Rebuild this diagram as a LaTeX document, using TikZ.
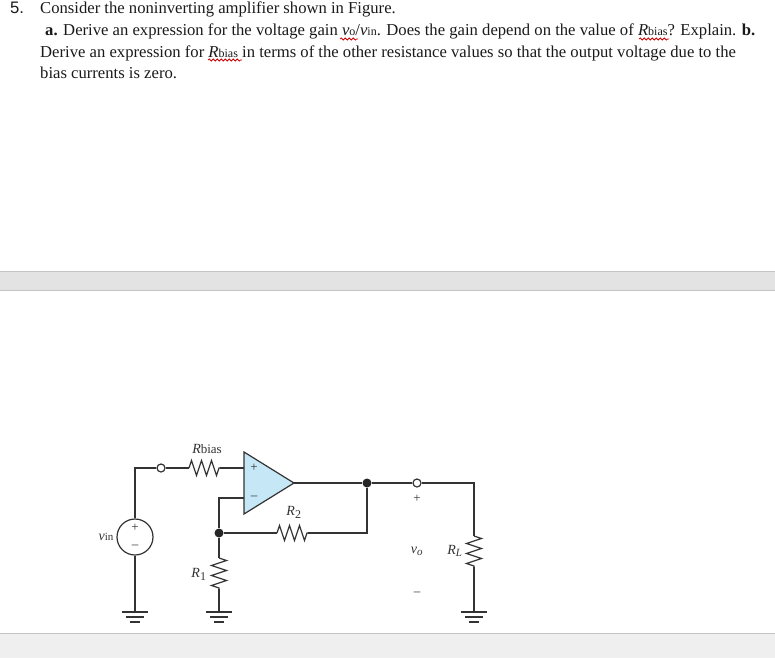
\documentclass[tikz,border=0pt]{standalone}
\usepackage{amsmath}
\usepackage{fontspec}
\setmainfont{Liberation Serif}
\newfontfamily\numfont{Liberation Sans}
\usetikzlibrary{decorations.pathmorphing}
\definecolor{wire}{HTML}{333333}
\definecolor{ampblue}{HTML}{C6E7F6}
\definecolor{bandone}{HTML}{E3E3E3}
\definecolor{bandtwo}{HTML}{EFEFEF}
\definecolor{bandline}{HTML}{C4C4C4}
\definecolor{inkblack}{HTML}{1A1A1A}
\newcommand{\fsz}[1]{\fontsize{#1}{#1}\selectfont}
\newcommand{\Rb}[1]{\textit{R}{\fsz{#1}bias}}

\begin{document}
\begin{tikzpicture}[x=1pt,y=-1pt]
  \tikzstyle{ligne}=[anchor=base west, inner sep=0pt, text=inkblack, font=\fsz{16.65}]
  \tikzstyle{fil}=[draw=wire, line width=1.2pt]
  \tikzstyle{resist}=[fil, decorate, decoration={zigzag, amplitude=7.5pt, segment length=10pt}]
  \tikzstyle{ouvert}=[circle, draw=wire, fill=white, line width=1.2pt, inner sep=0pt, minimum size=8pt]
  \tikzstyle{point}=[circle, fill=black!85, inner sep=0pt, minimum size=9pt]
  \tikzstyle{lab}=[inner sep=0pt, text=wire, font=\fsz{14}]
  \tikzstyle{signe}=[inner sep=0pt, text=wire, font=\fsz{13}]
  \tikzstyle{vague}=[draw=red!80!black, line width=.8pt, decorate, decoration={snake, amplitude=1pt, segment length=4pt}]
  \useasboundingbox (0,0) rectangle (775,658);
  % text
  \node[ligne, font=\fsz{16.65}\numfont] (num) at (10,14) {5.};
  \node[ligne] (l1) at (40,14) {Consider the noninverting amplifier shown in Figure.};
  \node[ligne] (l2) at (45,36) {\textbf{a.} Derive an expression for the voltage gain \textit{v}{\fsz{12}o}/\textit{v}{\fsz{12}in}. Does the gain depend on the value of \Rb{12}? Explain. \textbf{b.}};
  \node[ligne] (l3) at (40,58) {Derive an expression for \Rb{12}\ in terms of the other resistance values so that the output voltage due to the};
  \node[ligne] (l4) at (40,79) {bias currents is zero.};
  \draw[vague] (340,39) -- (358,39);
  \draw[vague] (639,39) -- (669,39);
  \draw[vague] (208,60) -- (242,60);
  % bands
  \fill[bandone] (0,271) rectangle (775,290);
  \draw[bandline] (0,271.5) -- (775,271.5) (0,290.5) -- (775,290.5);
  \fill[bandtwo] (0,633) rectangle (775,658);
  \draw[bandline] (0,633.5) -- (775,633.5);
  % points
  \coordinate (topleft) at (135,468);
  \node[ouvert] (in) at (161,468) {};
  \coordinate (rba) at (189,468);
  \coordinate (rbb) at (220,468);
  \coordinate (ampa) at (244,452);
  \coordinate (ampb) at (244,514);
  \coordinate (ampc) at (294,483);
  \coordinate (plus) at (244,468);
  \coordinate (minus) at (244,498);
  \coordinate (coin) at (219,498);
  \node[point] (ja) at (219,533) {};
  \node[point] (jb) at (367,483) {};
  \node[ouvert] (out) at (417,483) {};
  \coordinate (coinb) at (474,483);
  \coordinate (coinc) at (367,533);
  \coordinate (r2a) at (277,533);
  \coordinate (r2b) at (308,533);
  \coordinate (r1a) at (219,558);
  \coordinate (r1b) at (219,589);
  \coordinate (rla) at (474,536);
  \coordinate (rlb) at (474,567);
  \node[circle, draw=wire, fill=white, line width=1.2pt, inner sep=0pt, minimum size=36pt] (src) at (135,537) {};
  \coordinate (ga) at (135,612);
  \coordinate (gb) at (219,612);
  \coordinate (gc) at (474,612);
  % wires
  \draw[fil] (src) -- (topleft) -- (in) -- (rba);
  \draw[resist] (rba) -- (rbb);
  \draw[fil] (rbb) -- (plus);
  \draw[fil, fill=ampblue] (ampa) -- (ampb) -- (ampc) -- cycle;
  \draw[fil] (minus) -- (coin) -- (ja) -- (r2a);
  \draw[resist] (r2a) -- (r2b);
  \draw[fil] (r2b) -- (coinc) -- (jb);
  \draw[fil] (ampc) -- (jb) -- (out) -- (coinb) -- (rla);
  \draw[resist] (rla) -- (rlb);
  \draw[fil] (rlb) -- (gc);
  \draw[fil] (ja) -- (r1a);
  \draw[resist] (r1a) -- (r1b);
  \draw[fil] (r1b) -- (gb);
  \draw[fil] (src) -- (ga);
  % grounds
  \foreach \g in {ga,gb,gc}{
    \draw[draw=wire, line width=1.7pt] ([xshift=-13pt]\g) -- ([xshift=13pt]\g);
    \draw[draw=wire, line width=1.7pt] ([xshift=-9pt,yshift=-5pt]\g) -- ([xshift=9pt,yshift=-5pt]\g);
    \draw[draw=wire, line width=1.7pt] ([xshift=-5pt,yshift=-10pt]\g) -- ([xshift=5pt,yshift=-10pt]\g);
  }
  % labels
  \node[lab] (lbias) at (207,449) {\Rb{13}};
  \node[lab] (lr2) at (294,512) {\textit{R}\textsubscript{\fsz{12}2}};
  \node[lab] (lr1) at (199,574) {\textit{R}\textsubscript{\fsz{12}1}};
  \node[lab] (lrl) at (455,551) {\textit{R}\textsubscript{\fsz{11}\textit{L}}};
  \node[lab] (lvin) at (106,537) {\textit{v}{\fsz{11}in}};
  \node[lab] (lvo) at (417,551) {\textit{v}\textsubscript{\fsz{11}\textit{o}}};
  \node[signe] (lp) at (417,499) {+};
  \node[signe] (lm) at (417,594) {--};
  \node[signe] (ap) at (254,468) {+};
  \node[signe] (am) at (254,498) {--};
  \node[signe] (sp) at (135,528) {+};
  \node[signe] (sm) at (135,547) {--};
\end{tikzpicture}
\end{document}
